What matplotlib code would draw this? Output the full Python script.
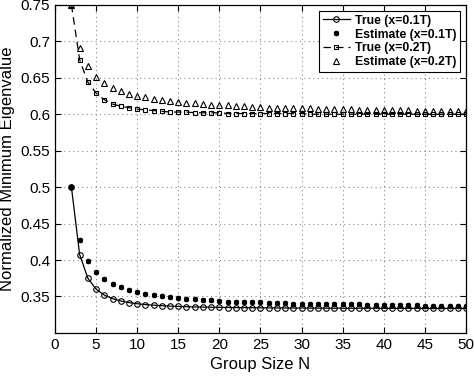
import matplotlib
matplotlib.use("Agg")
import matplotlib.pyplot as plt

plt.rcParams["font.family"] = ["Liberation Sans", "DejaVu Sans"]

# group sizes N = 2..50
group_size = list(range(2, 51))

true_01 = [0.500, 0.4074, 0.3750, 0.3600, 0.3519, 0.3469, 0.3438, 0.3416, 0.3400, 0.3388,
           0.3380, 0.3373, 0.3367, 0.3363, 0.3359, 0.3356, 0.3354, 0.3352, 0.3350, 0.3348,
           0.3347, 0.3346, 0.3345, 0.3344, 0.3343, 0.3342, 0.3342, 0.3341, 0.3341, 0.3340,
           0.3340, 0.3339, 0.3339, 0.3339, 0.3338, 0.3338, 0.3338, 0.3338, 0.3337, 0.3337,
           0.3337, 0.3337, 0.3337, 0.3337, 0.3336, 0.3336, 0.3336, 0.3336, 0.3336]
est_01 = [0.500, 0.427, 0.399, 0.383, 0.374, 0.367, 0.363, 0.359, 0.356, 0.354,
          0.352, 0.351, 0.349, 0.348, 0.347, 0.346, 0.345, 0.345, 0.344, 0.343,
          0.343, 0.342, 0.342, 0.342, 0.341, 0.341, 0.341, 0.340, 0.340, 0.340,
          0.340, 0.339, 0.339, 0.339, 0.339, 0.339, 0.338, 0.338, 0.338, 0.338,
          0.338, 0.338, 0.338, 0.337, 0.337, 0.337, 0.337, 0.337, 0.337]
true_02 = [0.750, 0.675, 0.644, 0.629, 0.620, 0.614, 0.611, 0.609, 0.607, 0.606,
           0.605, 0.604, 0.603, 0.603, 0.603, 0.602, 0.602, 0.602, 0.602, 0.601,
           0.601, 0.601, 0.601, 0.601, 0.601, 0.601, 0.601, 0.601, 0.601, 0.600,
           0.600, 0.600, 0.600, 0.600, 0.600, 0.600, 0.600, 0.600, 0.600, 0.600,
           0.600, 0.600, 0.600, 0.600, 0.600, 0.600, 0.600, 0.600, 0.600]
est_02 = [0.750, 0.691, 0.666, 0.651, 0.643, 0.636, 0.632, 0.628, 0.625, 0.623,
          0.621, 0.619, 0.618, 0.617, 0.616, 0.615, 0.614, 0.613, 0.612, 0.612,
          0.611, 0.611, 0.610, 0.610, 0.609, 0.609, 0.609, 0.608, 0.608, 0.608,
          0.607, 0.607, 0.607, 0.607, 0.607, 0.606, 0.606, 0.606, 0.606, 0.606,
          0.606, 0.606, 0.605, 0.605, 0.605, 0.605, 0.605, 0.605, 0.605]

x_ticks = [0, 5, 10, 15, 20, 25, 30, 35, 40, 45, 50]
y_ticks = [0.35, 0.4, 0.45, 0.5, 0.55, 0.6, 0.65, 0.7, 0.75]
y_tick_labels = ["0.35", "0.4", "0.45", "0.5", "0.55", "0.6", "0.65", "0.7", "0.75"]

fig = plt.figure(figsize=(4.74, 3.77), dpi=100)
ax = fig.add_axes([0.116, 0.117, 0.867, 0.870])

ax.plot(group_size, true_01, color="black", lw=0.9, ls="-", marker="o", ms=4,
        mfc="none", mec="black", mew=0.8, label="True (x=0.1T)")
ax.plot(group_size, est_01, color="black", ls="none", marker=(6, 2, 0), ms=3.8,
        mec="black", mew=1.3, label="Estimate (x=0.1T)")
ax.plot(group_size, true_02, color="black", lw=0.9, ls=(0, (6, 4)), marker="s", ms=3.5,
        mfc="none", mec="black", mew=0.8, label="True (x=0.2T)")
ax.plot(group_size, est_02, color="black", ls="none", marker="^", ms=4.5,
        mfc="none", mec="black", mew=0.8, label="Estimate (x=0.2T)")

ax.set_xlim(0, 50)
ax.set_ylim(0.3, 0.75)
ax.set_xticks(x_ticks)
ax.set_yticks(y_ticks)
ax.set_yticklabels(y_tick_labels)
ax.tick_params(direction="in", top=True, right=True, labelsize=11, length=4, width=0.8)
ax.grid(True, ls=(0, (1, 3)), color="#888888", lw=0.8)
for s in ax.spines.values():
    s.set_linewidth(0.9)

ax.set_xlabel("Group Size N", fontsize=12)
ax.set_ylabel("Normalized Minimum Eigenvalue", fontsize=12)

leg = ax.legend(loc="upper right", prop={"weight": "bold", "size": 8.8},
                frameon=True, fancybox=False, edgecolor="black", framealpha=1,
                handlelength=2.2, handletextpad=0.4, borderpad=0.3, labelspacing=0.15,
                borderaxespad=0.5)
leg.get_frame().set_linewidth(0.8)

fig.savefig("out.png", dpi=100)
